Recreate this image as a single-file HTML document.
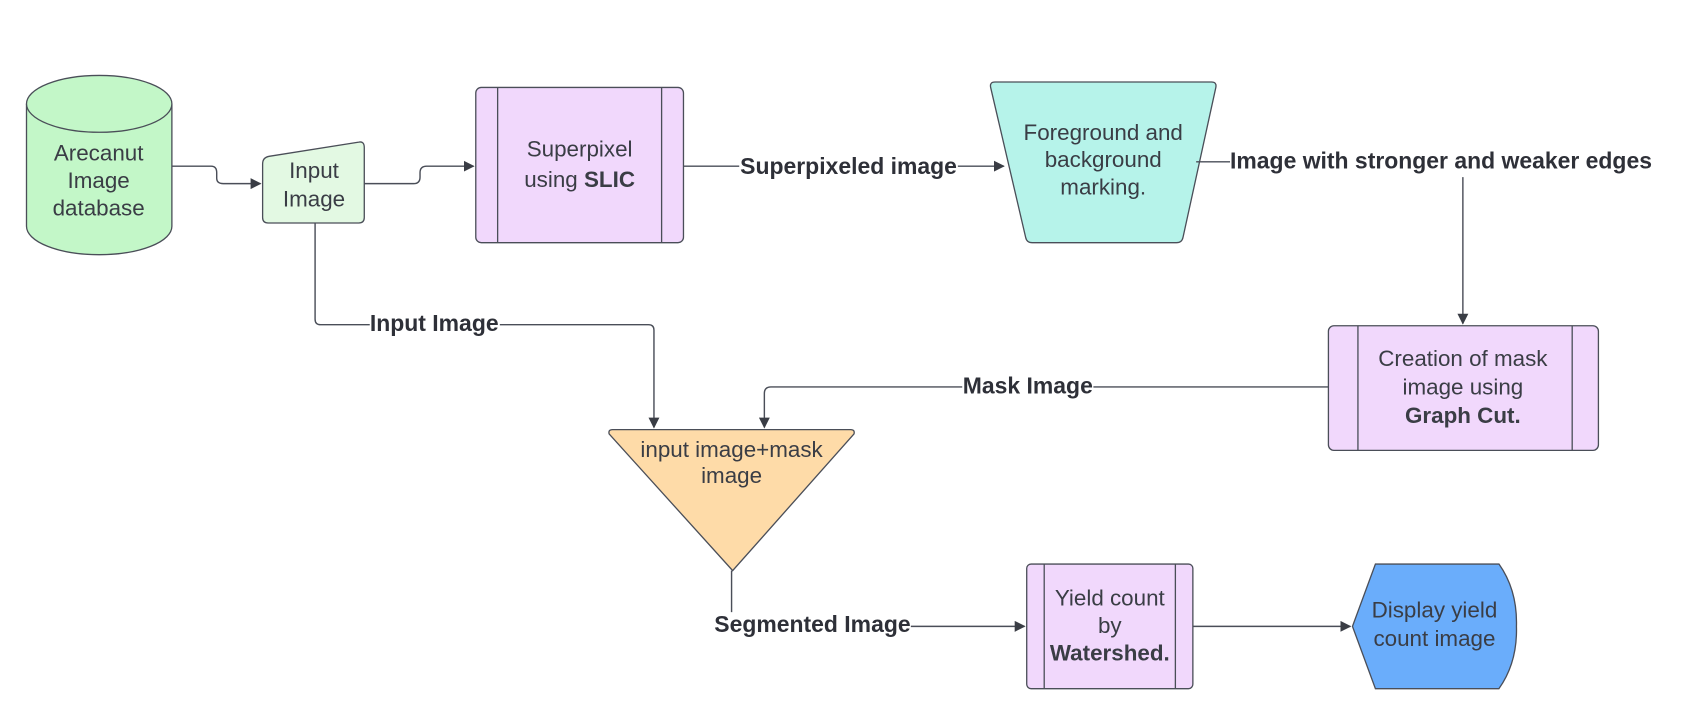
<!DOCTYPE html>
<html><head><meta charset="utf-8"><style>
html,body{margin:0;padding:0;background:#fff;}
svg{display:block;}
text{font-family:"Liberation Sans",sans-serif;fill:#3a3d45;}
.n{font-size:20.5px;text-anchor:middle;}
.b{font-size:21px;font-weight:bold;fill:#2e3038;}
.l{stroke:#4a4e58;stroke-width:1.3;fill:none;}
.s{stroke:#4a4e58;stroke-width:1.2;}
</style></head><body>
<svg width="1708" height="716" viewBox="0 0 1562 655" xmlns="http://www.w3.org/2000/svg">
<defs><marker id="a" markerWidth="10" markerHeight="10" refX="9" refY="5" orient="auto" markerUnits="userSpaceOnUse"><path d="M0,0 L10,5 L0,10 z" fill="#3a3d45"/></marker></defs>

<path class="s" d="M24,95 L24,207 A66.5,26 0 0 0 157,207 L157,95" fill="#c3f7c8"/>
<ellipse class="s" cx="90.5" cy="95" rx="66.5" ry="26" fill="#c3f7c8"/>
<text class="n" x="90" y="147">Arecanut</text>
<text class="n" x="90" y="172">Image</text>
<text class="n" x="90" y="197">database</text>

<path class="s" d="M246,143 L328,130 Q333,129 333,135 L333,199 Q333,204 328,204 L245,204 Q240,204 240,199 L240,150 Q240,144 246,143 z" fill="#e3f9e3"/>
<text class="n" x="287" y="163">Input</text>
<text class="n" x="287" y="189">Image</text>
<path class="l" d="M157,152 L193,152 Q198,152 198,158 L198,163 Q198,168 204,168 L238,168" marker-end="url(#a)"/>
<path class="l" d="M333,168 L378,168 Q384,168 384,162 L384,158 Q384,152 390,152 L433,152" marker-end="url(#a)"/>

<rect class="s" x="435" y="80" width="190" height="142" rx="5" fill="#f1d8fc"/>
<line class="s" x1="455" y1="80" x2="455" y2="222"/><line class="s" x1="605" y1="80" x2="605" y2="222"/>
<text class="n" x="530" y="143">Superpixel</text>
<text class="n" x="530" y="171">using <tspan font-weight="bold">SLIC</tspan></text>

<path class="l" d="M625,152 L918,152" marker-end="url(#a)"/>
<rect x="676" y="139" width="200" height="24" fill="#fff"/>
<text class="b" x="776" y="159" text-anchor="middle">Superpixeled image</text>

<path class="s" d="M910,75 L1108,75 Q1113,75 1112,80 L1082,217 Q1081,222 1076,222 L944,222 Q939,222 938,217 L906,80 Q905,75 910,75 z" fill="#b6f3ea"/>
<text class="n" x="1009" y="128">Foreground and</text>
<text class="n" x="1009" y="153">background</text>
<text class="n" x="1009" y="178">marking.</text>

<path class="l" d="M1094,148 L1125,148"/>
<text class="b" x="1125" y="154">Image with stronger and weaker edges</text>
<path class="l" d="M1338,162 L1338,296" marker-end="url(#a)"/>

<rect class="s" x="1215" y="298" width="247" height="114" rx="5" fill="#f1d8fc"/>
<line class="s" x1="1242" y1="298" x2="1242" y2="412"/><line class="s" x1="1438" y1="298" x2="1438" y2="412"/>
<text class="n" x="1338" y="335">Creation of mask</text>
<text class="n" x="1338" y="361">image using</text>
<text class="n" x="1338" y="387" font-weight="bold">Graph Cut.</text>

<path class="l" d="M1215,354 L705,354 Q699,354 699,360 L699,391" marker-end="url(#a)"/>
<rect x="880" y="342" width="120" height="24" fill="#fff"/>
<text class="b" x="940" y="360" text-anchor="middle">Mask Image</text>

<path class="l" d="M288,204 L288,292 Q288,297 293,297 L593,297 Q598,297 598,302 L598,391" marker-end="url(#a)"/>
<rect x="338" y="285" width="119" height="24" fill="#fff"/>
<text class="b" x="397" y="303" text-anchor="middle">Input Image</text>

<path class="s" d="M560,393 L778,393 Q782,393 781,397 L670,522 L557,397 Q556,393 560,393 z" fill="#fedba8"/>
<text class="n" x="669" y="418">input image+mask</text>
<text class="n" x="669" y="442">image</text>

<path class="l" d="M669,522 L669,560"/>
<path class="l" d="M833,573 L937,573" marker-end="url(#a)"/>
<text class="b" x="743" y="578" text-anchor="middle">Segmented Image</text>

<rect class="s" x="939" y="516" width="152" height="114" rx="4" fill="#f1d8fc"/>
<line class="s" x1="955" y1="516" x2="955" y2="630"/><line class="s" x1="1075" y1="516" x2="1075" y2="630"/>
<text class="n" x="1015" y="554">Yield count</text>
<text class="n" x="1015" y="579">by</text>
<text class="n" x="1015" y="604" font-weight="bold">Watershed.</text>

<path class="l" d="M1091,573 L1235,573" marker-end="url(#a)"/>

<path class="s" d="M1258,516 L1371,516 Q1388,540 1387,573 Q1388,606 1371,630 L1258,630 L1237,573 z" fill="#6aadfb"/>
<text class="n" x="1312" y="565">Display yield</text>
<text class="n" x="1312" y="591">count image</text>
</svg>
</body></html>
